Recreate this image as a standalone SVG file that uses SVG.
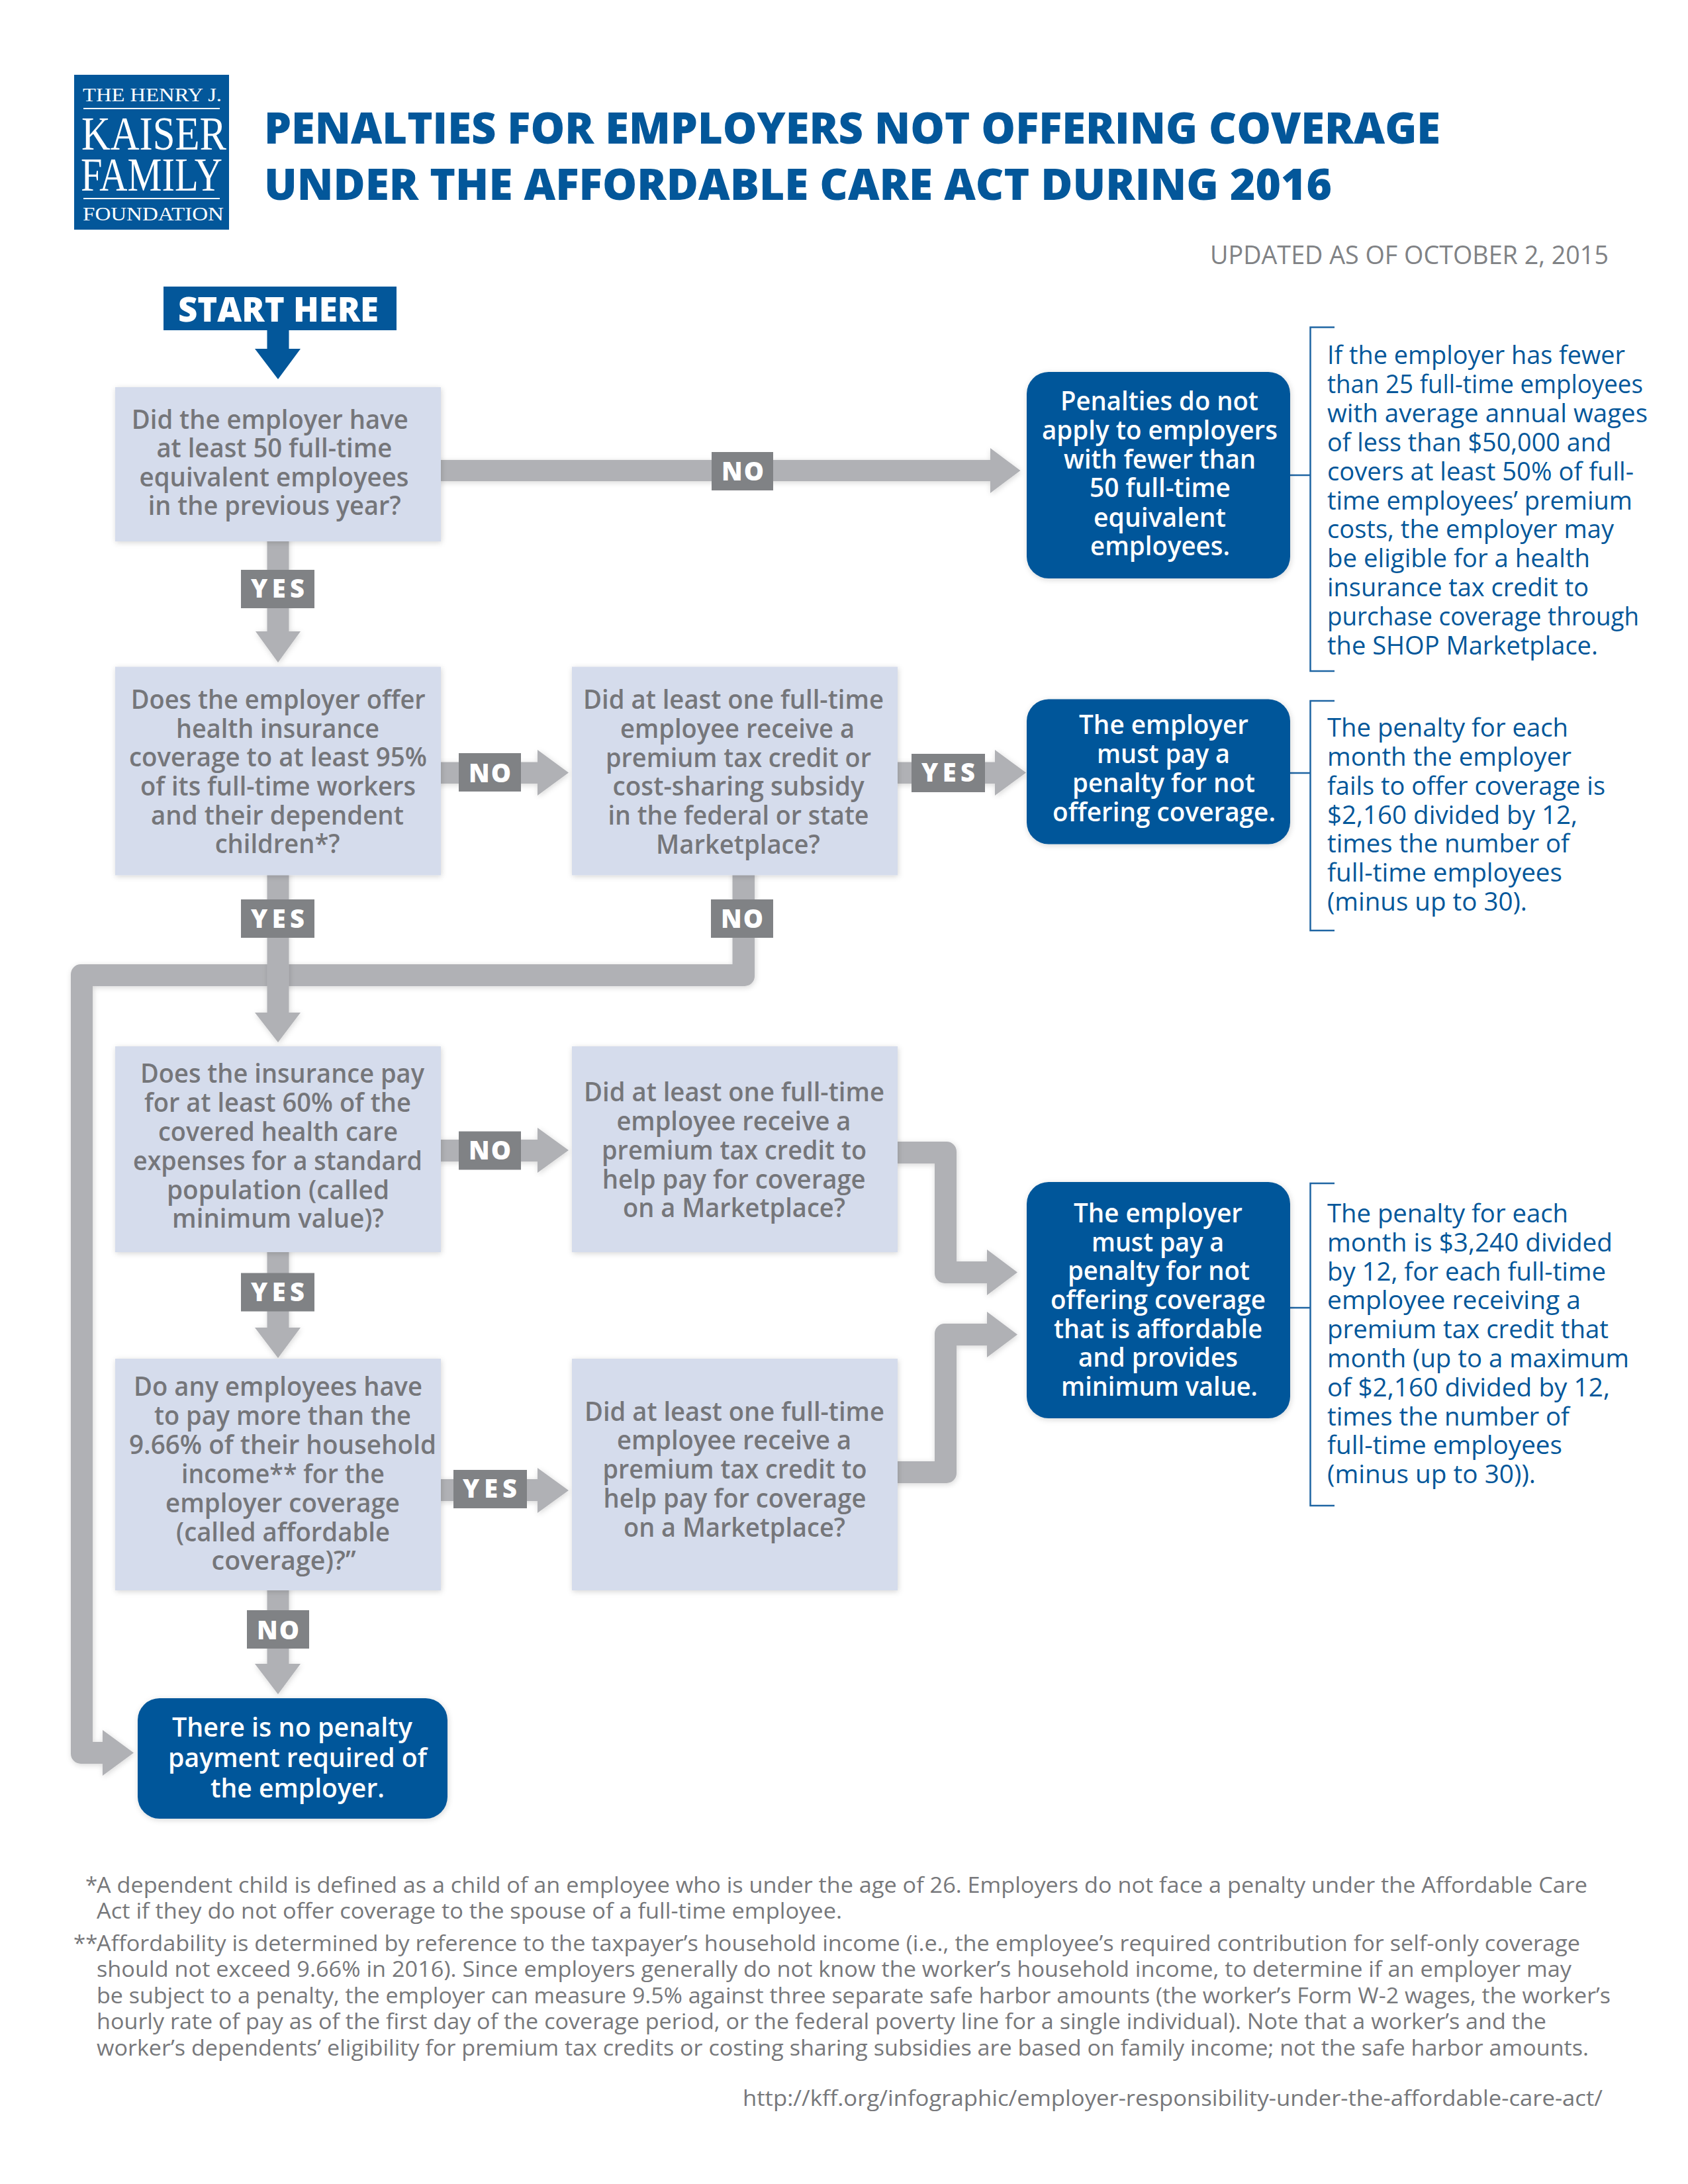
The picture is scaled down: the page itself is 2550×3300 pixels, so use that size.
<svg xmlns="http://www.w3.org/2000/svg" width="2550" height="3300" viewBox="0 0 2550 3300">
<style>
text{font-family:"Open Sans","Noto Sans","Liberation Sans",sans-serif}
.q{font-size:39.5px;font-weight:600;fill:#75767A}
.r{font-size:39.5px;font-weight:600;fill:#fff}
.n{font-size:38.5px;font-weight:400;fill:#03579A}
.f{font-size:33px;font-weight:400;fill:#77787B}
.t{font-size:66px;font-weight:800;fill:#03579A}
.l{font-size:38px;font-weight:800;fill:#fff}
.lg{font-family:"Liberation Serif",serif;fill:#fff}
.qb{fill:#D5DCEC;filter:url(#s)}
.rb{fill:#03579A;filter:url(#s)}
.a{fill:#B0B1B5;filter:url(#s)}
.lb{fill:#808285}
.br{fill:none;stroke:#1F65A3;stroke-width:2.5}
</style>
<defs><filter id="s" x="-10%" y="-10%" width="120%" height="120%"><feDropShadow dx="1" dy="2" stdDeviation="4" flood-color="#000" flood-opacity="0.16"/></filter></defs>
<rect width="2550" height="3300" fill="#fff"/>
<g id="logo">
<rect x="112" y="113" width="234" height="234" fill="#03579A"/>
<rect x="126" y="163" width="206" height="2" fill="#fff"/>
<rect x="126" y="299" width="206" height="2" fill="#fff"/>
<text class="lg" x="125" y="153" font-size="30" textLength="210" lengthAdjust="spacingAndGlyphs">THE HENRY J.</text>
<text class="lg" x="123" y="226" font-size="71" textLength="219" lengthAdjust="spacingAndGlyphs">KAISER</text>
<text class="lg" x="122" y="288" font-size="71" textLength="214" lengthAdjust="spacingAndGlyphs">FAMILY</text>
<text class="lg" x="125" y="333" font-size="30" textLength="213" lengthAdjust="spacingAndGlyphs">FOUNDATION</text>
</g>
<g id="title">
<text class="t" x="399" y="217" textLength="1777" lengthAdjust="spacingAndGlyphs">PENALTIES FOR EMPLOYERS NOT OFFERING COVERAGE</text>
<text class="t" x="399" y="302" textLength="1613" lengthAdjust="spacingAndGlyphs">UNDER THE AFFORDABLE CARE ACT DURING 2016</text>
</g>
<text id="updated" x="1828" y="399" font-size="39" fill="#808285" textLength="602" lengthAdjust="spacingAndGlyphs">UPDATED AS OF OCTOBER 2, 2015</text>
<g id="connectors">
<path class="a" d="M1106.5 1315V1457H122A15 15 0 0 0 107 1472V2650A15 15 0 0 0 122 2665H155V2683L202 2648.500 155 2614V2632H140V1490H1125A15 15 0 0 0 1140 1475V1315Z"/>
<path class="a" d="M403.500 1315V1530H385L420 1575 454 1530H436.500V1315Z"/>
<path class="a" d="M660 695H1496V677L1541.500 711 1496 745V727H660Z"/>
<path class="a" d="M403.500 810V954H386L420 1001 454 954H436.500V810Z"/>
<path class="a" d="M660 1151.500H812V1133L859 1167.500 812 1202V1184H660Z"/>
<path class="a" d="M1350 1151.500H1503V1133L1550 1167.500 1503 1202V1184H1350Z"/>
<path class="a" d="M660 1722H812V1704L859 1738 812 1772V1755H660Z"/>
<path class="a" d="M403.500 1885V2006H385L420 2052 454 2006H436.500V1885Z"/>
<path class="a" d="M660 2235H812V2218L859 2252 812 2286V2268H660Z"/>
<path class="a" d="M403.500 2395V2514H385L420 2560 454 2514H436.500V2395Z"/>
<path class="a" d="M1350 1725H1430A15 15 0 0 1 1445 1740V1906H1491V1888L1537 1922.500 1491 1957V1939H1427A15 15 0 0 1 1412 1924V1758H1350Z"/>
<path class="a" d="M1350 2208H1412V2015A15 15 0 0 1 1427 2000H1491V1982L1537 2016.500 1491 2051V2033H1445V2226A15 15 0 0 1 1430 2241H1350Z"/>
<path class="br" d="M2016 494.500H1979.500V1014H2016M1948 718H1979.500"/>
<path class="br" d="M2016 1059H1979.500V1406H2016M1948 1168H1979.500"/>
<path class="br" d="M2016 1788H1979.500V2275H2016M1948 1976H1979.500"/>
<g id="connector-labels">
<rect class="lb" x="1075" y="683" width="93" height="58"/><text class="l" x="1090" y="726" textLength="64" lengthAdjust="spacing">NO</text>
<rect class="lb" x="364" y="861" width="111" height="58"/><text class="l" x="379" y="903" textLength="81" lengthAdjust="spacing">YES</text>
<rect class="lb" x="693" y="1138" width="94" height="58"/><text class="l" x="708" y="1182" textLength="64" lengthAdjust="spacing">NO</text>
<rect class="lb" x="1377" y="1139" width="111" height="58"/><text class="l" x="1392" y="1181" textLength="81" lengthAdjust="spacing">YES</text>
<rect class="lb" x="364" y="1359" width="111" height="58"/><text class="l" x="379" y="1402" textLength="81" lengthAdjust="spacing">YES</text>
<rect class="lb" x="1074" y="1359" width="94" height="58"/><text class="l" x="1089" y="1402" textLength="64" lengthAdjust="spacing">NO</text>
<rect class="lb" x="693" y="1709.500" width="94" height="58"/><text class="l" x="708" y="1752" textLength="64" lengthAdjust="spacing">NO</text>
<rect class="lb" x="364" y="1923.500" width="111" height="58"/><text class="l" x="379" y="1966" textLength="81" lengthAdjust="spacing">YES</text>
<rect class="lb" x="685" y="2221" width="111" height="58"/><text class="l" x="699" y="2263" textLength="82" lengthAdjust="spacing">YES</text>
<rect class="lb" x="373" y="2433" width="94" height="58"/><text class="l" x="388" y="2477" textLength="64" lengthAdjust="spacing">NO</text>
</g>
</g>
<g id="start">
<rect x="247" y="433" width="352" height="66" fill="#03579A"/>
<path d="M403.500 499V527H385L420 573 454 527H436.500V499Z" fill="#03579A"/>
<text x="269" y="486" font-size="52" font-weight="800" fill="#fff" textLength="303" lengthAdjust="spacingAndGlyphs">START HERE</text>
</g>
<g id="q1">
<rect class="qb" x="174" y="585" width="492" height="233"/>
<text class="q" x="198.700" y="648" textLength="418" lengthAdjust="spacingAndGlyphs">Did the employer have</text>
<text class="q" x="236.400" y="691" textLength="356" lengthAdjust="spacingAndGlyphs">at least 50 full-time</text>
<text class="q" x="210.500" y="734.500" textLength="407" lengthAdjust="spacingAndGlyphs">equivalent employees</text>
<text class="q" x="223.700" y="778" textLength="382" lengthAdjust="spacingAndGlyphs">in the previous year?</text>
</g>
<g id="q2">
<rect class="qb" x="174" y="1007.500" width="492" height="315"/>
<text class="q" x="197.700" y="1071" textLength="445" lengthAdjust="spacingAndGlyphs">Does the employer offer</text>
<text class="q" x="266" y="1115" textLength="307" lengthAdjust="spacingAndGlyphs">health insurance</text>
<text class="q" x="195" y="1158" textLength="450" lengthAdjust="spacingAndGlyphs">coverage to at least 95%</text>
<text class="q" x="212" y="1202" textLength="416" lengthAdjust="spacingAndGlyphs">of its full-time workers</text>
<text class="q" x="228" y="1245.500" textLength="382" lengthAdjust="spacingAndGlyphs">and their dependent</text>
<text class="q" x="324.700" y="1289" textLength="189" lengthAdjust="spacingAndGlyphs">children*?</text>
</g>
<g id="q3">
<rect class="qb" x="864" y="1007.500" width="492" height="315"/>
<text class="q" x="881" y="1071" textLength="454" lengthAdjust="spacingAndGlyphs">Did at least one full-time</text>
<text class="q" x="937" y="1115" textLength="354" lengthAdjust="spacingAndGlyphs">employee receive a</text>
<text class="q" x="915" y="1159" textLength="401" lengthAdjust="spacingAndGlyphs">premium tax credit or</text>
<text class="q" x="925.600" y="1202" textLength="380" lengthAdjust="spacingAndGlyphs">cost-sharing subsidy</text>
<text class="q" x="918.500" y="1246" textLength="394" lengthAdjust="spacingAndGlyphs">in the federal or state</text>
<text class="q" x="991" y="1290" textLength="248" lengthAdjust="spacingAndGlyphs">Marketplace?</text>
</g>
<g id="q4">
<rect class="qb" x="174" y="1581" width="492" height="311"/>
<text class="q" x="212" y="1636" textLength="429" lengthAdjust="spacingAndGlyphs">Does the insurance pay</text>
<text class="q" x="218" y="1680" textLength="403" lengthAdjust="spacingAndGlyphs">for at least 60% of the</text>
<text class="q" x="239" y="1724" textLength="362" lengthAdjust="spacingAndGlyphs">covered health care</text>
<text class="q" x="201" y="1768" textLength="437" lengthAdjust="spacingAndGlyphs">expenses for a standard</text>
<text class="q" x="252" y="1811.500" textLength="336" lengthAdjust="spacingAndGlyphs">population (called</text>
<text class="q" x="260" y="1855" textLength="320" lengthAdjust="spacingAndGlyphs">minimum value)?</text>
</g>
<g id="q5">
<rect class="qb" x="864" y="1581" width="492" height="311"/>
<text class="q" x="882" y="1664" textLength="454" lengthAdjust="spacingAndGlyphs">Did at least one full-time</text>
<text class="q" x="931.400" y="1708" textLength="354" lengthAdjust="spacingAndGlyphs">employee receive a</text>
<text class="q" x="909" y="1752" textLength="400" lengthAdjust="spacingAndGlyphs">premium tax credit to</text>
<text class="q" x="909.700" y="1796" textLength="398" lengthAdjust="spacingAndGlyphs">help pay for coverage</text>
<text class="q" x="941" y="1839" textLength="336" lengthAdjust="spacingAndGlyphs">on a Marketplace?</text>
</g>
<g id="q6">
<rect class="qb" x="174" y="2053" width="492" height="350"/>
<text class="q" x="202" y="2109" textLength="436" lengthAdjust="spacingAndGlyphs">Do any employees have</text>
<text class="q" x="233" y="2153" textLength="388" lengthAdjust="spacingAndGlyphs">to pay more than the</text>
<text class="q" x="195" y="2197" textLength="464" lengthAdjust="spacingAndGlyphs">9.66% of their household</text>
<text class="q" x="274" y="2241" textLength="307" lengthAdjust="spacingAndGlyphs">income** for the</text>
<text class="q" x="250" y="2284.600" textLength="354" lengthAdjust="spacingAndGlyphs">employer coverage</text>
<text class="q" x="266" y="2328.500" textLength="323" lengthAdjust="spacingAndGlyphs">(called affordable</text>
<text class="q" x="319.600" y="2372" textLength="218" lengthAdjust="spacingAndGlyphs">coverage)?”</text>
</g>
<g id="q7">
<rect class="qb" x="864" y="2053" width="492" height="350"/>
<text class="q" x="883" y="2147" textLength="453" lengthAdjust="spacingAndGlyphs">Did at least one full-time</text>
<text class="q" x="932" y="2190" textLength="354" lengthAdjust="spacingAndGlyphs">employee receive a</text>
<text class="q" x="910.500" y="2234" textLength="399" lengthAdjust="spacingAndGlyphs">premium tax credit to</text>
<text class="q" x="911.400" y="2278" textLength="397" lengthAdjust="spacingAndGlyphs">help pay for coverage</text>
<text class="q" x="942" y="2322" textLength="335" lengthAdjust="spacingAndGlyphs">on a Marketplace?</text>
</g>
<g id="r1">
<rect class="rb" x="1551" y="562" width="398" height="312" rx="33"/>
<text class="r" x="1602" y="620" textLength="299" lengthAdjust="spacingAndGlyphs">Penalties do not</text>
<text class="r" x="1574" y="664" textLength="356" lengthAdjust="spacingAndGlyphs">apply to employers</text>
<text class="r" x="1607" y="708" textLength="290" lengthAdjust="spacingAndGlyphs">with fewer than</text>
<text class="r" x="1646" y="751" textLength="213" lengthAdjust="spacingAndGlyphs">50 full-time</text>
<text class="r" x="1652" y="796" textLength="200" lengthAdjust="spacingAndGlyphs">equivalent</text>
<text class="r" x="1647" y="839" textLength="211" lengthAdjust="spacingAndGlyphs">employees.</text>
</g>
<g id="r2">
<rect class="rb" x="1551" y="1056.500" width="398" height="219" rx="33"/>
<text class="r" x="1630" y="1109" textLength="256" lengthAdjust="spacingAndGlyphs">The employer</text>
<text class="r" x="1657" y="1153" textLength="201" lengthAdjust="spacingAndGlyphs">must pay a</text>
<text class="r" x="1620" y="1197" textLength="276" lengthAdjust="spacingAndGlyphs">penalty for not</text>
<text class="r" x="1590" y="1241" textLength="337" lengthAdjust="spacingAndGlyphs">offering coverage.</text>
</g>
<g id="r3">
<rect class="rb" x="1551" y="1786" width="398" height="357" rx="33"/>
<text class="r" x="1622" y="1847" textLength="255" lengthAdjust="spacingAndGlyphs">The employer</text>
<text class="r" x="1649" y="1891" textLength="200" lengthAdjust="spacingAndGlyphs">must pay a</text>
<text class="r" x="1613" y="1934" textLength="275" lengthAdjust="spacingAndGlyphs">penalty for not</text>
<text class="r" x="1587" y="1978" textLength="325" lengthAdjust="spacingAndGlyphs">offering coverage</text>
<text class="r" x="1592" y="2022" textLength="315" lengthAdjust="spacingAndGlyphs">that is affordable</text>
<text class="r" x="1629" y="2065" textLength="241" lengthAdjust="spacingAndGlyphs">and provides</text>
<text class="r" x="1603" y="2109" textLength="297" lengthAdjust="spacingAndGlyphs">minimum value.</text>
</g>
<g id="r4">
<rect class="rb" x="208" y="2566" width="468" height="182" rx="33"/>
<text class="r" x="260" y="2624" textLength="363" lengthAdjust="spacingAndGlyphs">There is no penalty</text>
<text class="r" x="254" y="2670" textLength="391" lengthAdjust="spacingAndGlyphs">payment required of</text>
<text class="r" x="318" y="2716" textLength="263" lengthAdjust="spacingAndGlyphs">the employer.</text>
</g>
<g id="note1">
<text class="n" x="2005" y="550" textLength="450" lengthAdjust="spacingAndGlyphs">If the employer has fewer</text>
<text class="n" x="2005" y="594" textLength="477" lengthAdjust="spacingAndGlyphs">than 25 full-time employees</text>
<text class="n" x="2005" y="638" textLength="484" lengthAdjust="spacingAndGlyphs">with average annual wages</text>
<text class="n" x="2005" y="682" textLength="429" lengthAdjust="spacingAndGlyphs">of less than $50,000 and</text>
<text class="n" x="2005" y="726" textLength="463" lengthAdjust="spacingAndGlyphs">covers at least 50% of full-</text>
<text class="n" x="2005" y="770" textLength="461" lengthAdjust="spacingAndGlyphs">time employees’ premium</text>
<text class="n" x="2005" y="813" textLength="433" lengthAdjust="spacingAndGlyphs">costs, the employer may</text>
<text class="n" x="2005" y="857" textLength="397" lengthAdjust="spacingAndGlyphs">be eligible for a health</text>
<text class="n" x="2005" y="901" textLength="395" lengthAdjust="spacingAndGlyphs">insurance tax credit to</text>
<text class="n" x="2005" y="945" textLength="471" lengthAdjust="spacingAndGlyphs">purchase coverage through</text>
<text class="n" x="2005" y="989" textLength="409" lengthAdjust="spacingAndGlyphs">the SHOP Marketplace.</text>
</g>
<g id="note2">
<text class="n" x="2005" y="1113" textLength="364" lengthAdjust="spacingAndGlyphs">The penalty for each</text>
<text class="n" x="2005" y="1157" textLength="369" lengthAdjust="spacingAndGlyphs">month the employer</text>
<text class="n" x="2005" y="1201" textLength="420" lengthAdjust="spacingAndGlyphs">fails to offer coverage is</text>
<text class="n" x="2005" y="1245" textLength="378" lengthAdjust="spacingAndGlyphs">$2,160 divided by 12,</text>
<text class="n" x="2005" y="1288" textLength="366" lengthAdjust="spacingAndGlyphs">times the number of</text>
<text class="n" x="2005" y="1332" textLength="355" lengthAdjust="spacingAndGlyphs">full-time employees</text>
<text class="n" x="2005" y="1376" textLength="302" lengthAdjust="spacingAndGlyphs">(minus up to 30).</text>
</g>
<g id="note3">
<text class="n" x="2005" y="1847" textLength="364" lengthAdjust="spacingAndGlyphs">The penalty for each</text>
<text class="n" x="2005" y="1891" textLength="431" lengthAdjust="spacingAndGlyphs">month is $3,240 divided</text>
<text class="n" x="2005" y="1935" textLength="421" lengthAdjust="spacingAndGlyphs">by 12, for each full-time</text>
<text class="n" x="2005" y="1978" textLength="383" lengthAdjust="spacingAndGlyphs">employee receiving a</text>
<text class="n" x="2005" y="2022" textLength="425" lengthAdjust="spacingAndGlyphs">premium tax credit that</text>
<text class="n" x="2005" y="2066" textLength="456" lengthAdjust="spacingAndGlyphs">month (up to a maximum</text>
<text class="n" x="2005" y="2110" textLength="427" lengthAdjust="spacingAndGlyphs">of $2,160 divided by 12,</text>
<text class="n" x="2005" y="2154" textLength="366" lengthAdjust="spacingAndGlyphs">times the number of</text>
<text class="n" x="2005" y="2197" textLength="355" lengthAdjust="spacingAndGlyphs">full-time employees</text>
<text class="n" x="2005" y="2241" textLength="315" lengthAdjust="spacingAndGlyphs">(minus up to 30)).</text>
</g>
<g id="footnotes">
<text class="f" x="129" y="2860">*</text>
<text class="f" x="146" y="2860" textLength="2252" lengthAdjust="spacingAndGlyphs">A dependent child is defined as a child of an employee who is under the age of 26. Employers do not face a penalty under the Affordable Care</text>
<text class="f" x="146" y="2899" textLength="1126" lengthAdjust="spacingAndGlyphs">Act if they do not offer coverage to the spouse of a full-time employee.</text>
<text class="f" x="111" y="2948">**</text>
<text class="f" x="146" y="2948" textLength="2241" lengthAdjust="spacingAndGlyphs">Affordability is determined by reference to the taxpayer’s household income (i.e., the employee’s required contribution for self-only coverage</text>
<text class="f" x="146" y="2987" textLength="2228" lengthAdjust="spacingAndGlyphs">should not exceed 9.66% in 2016). Since employers generally do not know the worker’s household income, to determine if an employer may</text>
<text class="f" x="146" y="3027" textLength="2287" lengthAdjust="spacingAndGlyphs">be subject to a penalty, the employer can measure 9.5% against three separate safe harbor amounts (the worker’s Form W-2 wages, the worker’s</text>
<text class="f" x="146" y="3066" textLength="2190" lengthAdjust="spacingAndGlyphs">hourly rate of pay as of the first day of the coverage period, or the federal poverty line for a single individual). Note that a worker’s and the</text>
<text class="f" x="146" y="3106" textLength="2254" lengthAdjust="spacingAndGlyphs">worker’s dependents’ eligibility for premium tax credits or costing sharing subsidies are based on family income; not the safe harbor amounts.</text>
<text class="f" x="1122" y="3182" textLength="1299" lengthAdjust="spacingAndGlyphs">http://kff.org/infographic/employer-responsibility-under-the-affordable-care-act/</text>
</g>
</svg>
